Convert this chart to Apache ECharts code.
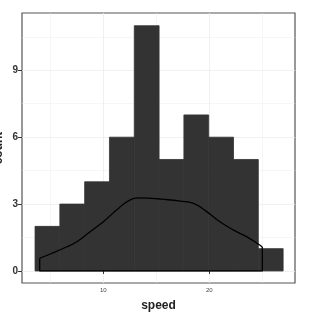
<!DOCTYPE html>
<html>
	<head>
		<meta charset="utf-8">
		<title>speed</title>
		<style type="text/css">
			html,body {
				margin: 0;
				padding: 0;
				background: #FFFFFF;
			}
			#chart {
				width: 320px;
				height: 320px;
			}
		</style>
	</head>
	<body>
		<div id="chart"></div>
		<script src="https://cdn.jsdelivr.net/npm/echarts@6/dist/echarts.min.js" type="text/javascript" charset="utf-8"></script>
		<script type="text/javascript">
			// histogram bins (left/right edges) and counts
			var binLeft = [3.56, 5.9, 8.24, 10.58, 12.92, 15.26, 17.6, 19.94, 22.28, 24.62];
			var binRight = [5.9, 8.24, 10.58, 12.92, 15.26, 17.6, 19.94, 22.28, 24.62, 26.96];
			var counts = [2, 3, 4, 6, 11, 5, 7, 6, 5, 1];

			// density curve, scaled to counts
			var densX = [4, 5, 6.25, 7.5, 8.75, 10, 11.25, 12.5, 13.5, 14.5, 15.5, 17.25, 18.5, 19.75, 21, 22.25, 23.5, 24.5, 25];
			var densY = [0.57, 0.76, 1.02, 1.31, 1.76, 2.21, 2.73, 3.18, 3.28, 3.26, 3.22, 3.13, 3.03, 2.66, 2.21, 1.84, 1.54, 1.24, 1.07];

			// tick labels
			var xTicks = [10, 20];
			var yTicks = [0, 3, 6, 9];
			var xGrid = [5, 10, 15, 20, 25];
			var yGrid = [0, 1.5, 3, 4.5, 6, 7.5, 9, 10.5];

			var myChart = echarts.init(document.getElementById('chart'));

			var barData = [];
			for (var i = 0; i < counts.length; i++) {
				barData.push([binLeft[i], binRight[i], counts[i]]);
			}
			var curve = [];
			for (var j = 0; j < densX.length; j++) {
				curve.push([densX[j], densY[j]]);
			}
			var last = densX.length - 1;
			// closing edges of the density polygon
			var outline = [[densX[0], densY[0]], [densX[0], 0], [densX[last], 0], [densX[last], densY[last]]];

			var gridLines = [];
			xGrid.forEach(function (v) {
				gridLines.push({ xAxis: v, lineStyle: { width: xTicks.indexOf(v) >= 0 ? 0.8 : 0.5 } });
			});
			yGrid.forEach(function (v) {
				gridLines.push({ yAxis: v, lineStyle: { width: yTicks.indexOf(v) >= 0 ? 0.8 : 0.5 } });
			});

			var option = {
				animation: false,
				grid: {
					left: 22,
					top: 13,
					right: 25,
					bottom: 37,
					outerBoundsMode: 'none',
					containLabel: false,
					show: true,
					borderColor: '#555555',
					borderWidth: 1.2,
					backgroundColor: 'transparent'
				},
				xAxis: {
					type: 'value',
					min: 2.33,
					max: 28.08,
					name: 'speed',
					nameLocation: 'middle',
					nameGap: 17,
					nameMoveOverlap: false,
					nameTextStyle: {
						fontFamily: 'Liberation Sans Narrow, Liberation Sans',
						fontSize: 12,
						fontWeight: 'bold',
						color: '#222222'
					},
					axisLine: { show: false },
					splitLine: { show: false },
					axisTick: {
						show: true,
						length: 3,
						customValues: xTicks,
						lineStyle: { color: '#333333' }
					},
					axisLabel: {
						customValues: xTicks,
						margin: 4,
						fontSize: 6,
						fontFamily: 'Liberation Sans',
						color: '#444444'
					}
				},
				yAxis: {
					type: 'value',
					min: -0.54,
					max: 11.57,
					name: 'count',
					nameLocation: 'middle',
					nameRotate: 90,
					nameGap: 17,
					nameMoveOverlap: false,
					nameTextStyle: {
						fontFamily: 'Liberation Sans Narrow, Liberation Sans',
						fontSize: 12,
						fontWeight: 'bold',
						color: '#222222'
					},
					axisLine: { show: false },
					splitLine: { show: false },
					axisTick: {
						show: true,
						length: 4,
						customValues: yTicks,
						lineStyle: { color: '#333333' }
					},
					axisLabel: {
						customValues: yTicks,
						margin: 4,
						fontSize: 10,
						fontWeight: 'bold',
						fontFamily: 'Liberation Sans',
						color: '#333333'
					}
				},
				series: [{
					type: 'line',
					data: [],
					z: 1,
					silent: true,
					markLine: {
						symbol: 'none',
						silent: true,
						z: 0,
						label: { show: false },
						lineStyle: { color: '#ececec', type: 'solid' },
						data: gridLines
					}
				}, {
					type: 'custom',
					z: 10,
					data: barData,
					encode: { x: [0, 1], y: 2 },
					renderItem: function (params, api) {
						var p0 = api.coord([api.value(0), api.value(2)]);
						var p1 = api.coord([api.value(1), 0]);
						return {
							type: 'rect',
							shape: { x: p0[0], y: p0[1], width: p1[0] - p0[0], height: p1[1] - p0[1] },
							style: { fill: '#333333', stroke: '#333333', lineWidth: 0.8 }
						};
					}
				}, {
					type: 'line',
					z: 11,
					data: curve,
					smooth: 0.5,
					showSymbol: false,
					lineStyle: { color: '#000000', width: 1.3 }
				}, {
					type: 'line',
					z: 11,
					data: outline,
					showSymbol: false,
					lineStyle: { color: '#000000', width: 1.3 }
				}]
			};
			myChart.setOption(option);
		</script>
	</body>
</html>
